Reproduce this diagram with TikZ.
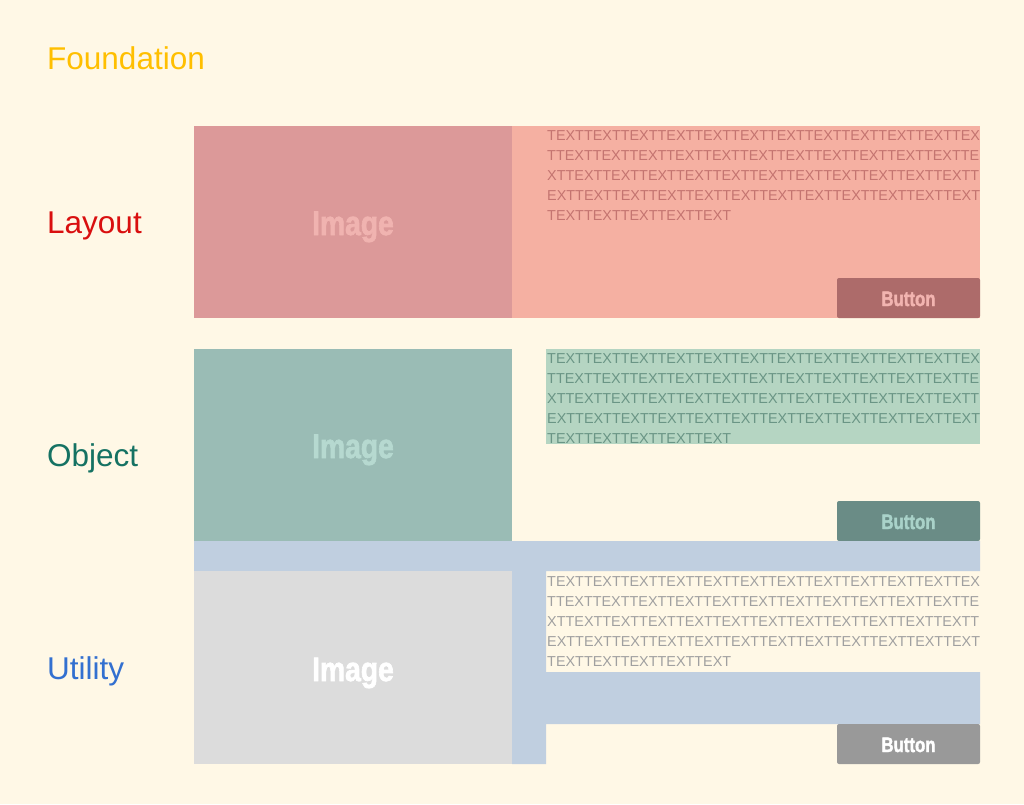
\documentclass[tikz,border=0pt]{standalone}
\usepackage{fontspec}
\setmainfont{Liberation Sans}
\newfontfamily\heavyfont[FakeBold=2.2]{Liberation Sans Bold}
\definecolor{bgc}{HTML}{FFF8E6}
\definecolor{cfound}{HTML}{FFBF00}
\definecolor{clayout}{HTML}{D90F0F}
\definecolor{cobject}{HTML}{157263}
\definecolor{cutil}{HTML}{3370D0}
\definecolor{limg}{HTML}{DC9999}
\definecolor{limgtxt}{HTML}{F0B3B0}
\definecolor{lbg}{HTML}{F5B0A2}
\definecolor{ltxt}{HTML}{C47470}
\definecolor{lbtn}{HTML}{AD6B6A}
\definecolor{lbtntxt}{HTML}{F2B4B0}
\definecolor{oimg}{HTML}{9ABCB5}
\definecolor{oimgtxt}{HTML}{B6D9D0}
\definecolor{obg}{HTML}{B5D5C2}
\definecolor{otxt}{HTML}{6A9585}
\definecolor{obtn}{HTML}{6A8C86}
\definecolor{obtntxt}{HTML}{A9D2C9}
\definecolor{ublue}{HTML}{C0CFE0}
\definecolor{uimg}{HTML}{DCDCDC}
\definecolor{utxt}{HTML}{A0A0A0}
\definecolor{ubtn}{HTML}{999999}
\newcommand{\mytextblock}{TEXTTEXTTEXTTEXTTEXTTEXTTEXTTEXTTEXTTEXTTEXTTEX\\TTEXTTEXTTEXTTEXTTEXTTEXTTEXTTEXTTEXTTEXTTEXTTE\\XTTEXTTEXTTEXTTEXTTEXTTEXTTEXTTEXTTEXTTEXTTEXTT\\EXTTEXTTEXTTEXTTEXTTEXTTEXTTEXTTEXTTEXTTEXTTEXT\\TEXTTEXTTEXTTEXTTEXT}
\tikzset{
  catlabel/.style={anchor=base west, inner sep=0pt, font=\fontsize{31.5}{36}\selectfont},
  imgtext/.style={inner sep=0pt, anchor=base, font=\heavyfont\fontsize{34}{40}\selectfont},
  btntext/.style={inner sep=0pt, anchor=base, font=\heavyfont\fontsize{21}{24}\selectfont},
  bodytext/.style={anchor=north west, inner sep=0pt, align=left, font=\fontsize{14.4}{20}\selectfont},
  btnbox/.style={rounded corners=2pt},
}
\begin{document}
\begin{tikzpicture}[x=1pt,y=-1pt]
\fill[bgc] (0,0) rectangle (1024,804);
\useasboundingbox (0,0) rectangle (1024,804);
% labels
\node[catlabel, text=cfound] (lfound) at (47,69) {Foundation};
\node[catlabel, text=clayout] (llayout) at (47,233) {Layout};
\node[catlabel, text=cobject] (lobject) at (47,466) {Object};
\node[catlabel, text=cutil] (lutil) at (47,679) {Utility};
% Layout row
\fill[limg] (194,126) rectangle (512,318);
\fill[lbg] (512,126) rectangle (980,318);
\node[imgtext, text=limgtxt] (limage) at (353,235) {\scalebox{0.83}[1]{Image}};
\node[bodytext, text=ltxt] (ltext) at (547,130) {\mytextblock};
\fill[lbtn, btnbox] (837,278) rectangle (980,318);
\node[btntext, text=lbtntxt] (lbutton) at (908.5,306) {\scalebox{0.8}[1]{Button}};
% Object row
\fill[oimg] (194,349) rectangle (512,541);
\node[imgtext, text=oimgtxt] (oimage) at (353,458) {\scalebox{0.83}[1]{Image}};
\fill[obg] (546,349) rectangle (980,444);
\node[bodytext, text=otxt] (otext) at (547,353) {\mytextblock};
\fill[obtn, btnbox] (837,501) rectangle (980,541);
\node[btntext, text=obtntxt] (obutton) at (908.5,529) {\scalebox{0.8}[1]{Button}};
% Utility row
\fill[ublue] (194,541) -- (980,541) -- (980,571) -- (546,571) -- (546,672) -- (980,672) -- (980,724) -- (546,724) -- (546,764) -- (512,764) -- (512,571) -- (194,571) -- cycle;
\fill[uimg] (194,571) rectangle (512,764);
\node[imgtext, text=white] (uimage) at (353,681) {\scalebox{0.83}[1]{Image}};
\node[bodytext, text=utxt] (utext) at (547,576) {\mytextblock};
\fill[ubtn, btnbox] (837,724) rectangle (980,764);
\node[btntext, text=white] (ubutton) at (908.5,752) {\scalebox{0.8}[1]{Button}};
\end{tikzpicture}
\end{document}
